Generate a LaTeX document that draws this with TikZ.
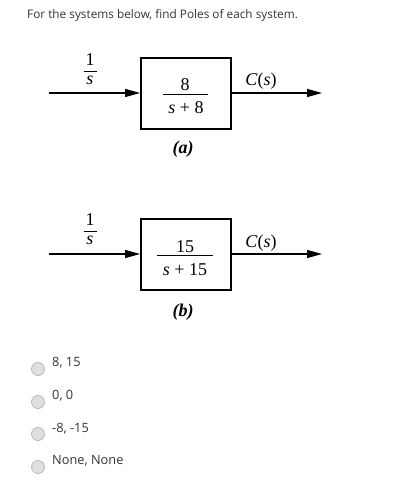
\documentclass[tikz,border=0pt]{standalone}
\usepackage{fontspec}
\setmainfont{Liberation Serif}
\newfontfamily\uifont{Open Sans}
\usetikzlibrary{arrows.meta}
\definecolor{uitext}{HTML}{333333}
\newcommand\onesfrac{\setlength\arrayrulewidth{0.9pt}\begin{tabular}{@{}c@{}}\makebox[13pt]{1}\\\hline\textit{s}\end{tabular}}
\begin{document}
\begin{tikzpicture}[x=1pt,y=-1pt,
  blk/.style={draw,line width=1.8pt,minimum width=90pt,minimum height=71pt,inner sep=0pt},
  arr/.style={line width=1.2pt,-{Triangle[length=15pt,width=8pt]}},
  dtext/.style={font=\fontsize{18}{18}\selectfont,inner sep=0pt,anchor=base},
  fracnode/.style={font=\fontsize{18}{18}\selectfont,inner sep=0pt,anchor=center},
  uitxt/.style={font=\uifont\fontsize{12.8}{14}\selectfont,text=uitext,inner sep=0pt,anchor=base west},
  radio/.style={circle,draw=gray!55,fill=gray!25,line width=0.8pt,minimum size=13pt,inner sep=0pt},
  bar/.style={line width=0.9pt}]
\useasboundingbox (0,0) rectangle (410,502);
\node[uitxt,font=\uifont\fontsize{11.8}{14}\selectfont] (title) at (27,19) {For the systems below, find Poles of each system.};
% ---- system (a)
\node[blk] (A) at (186,93.5) {};
\coordinate (ina) at (49,93);
\coordinate (outa) at (322,93);
\draw[arr] (ina) -- (A.west |- ina);
\draw[arr] (A.east |- outa) -- (outa);
\node[fracnode] (ain) at (90,71) {\onesfrac};
\node[dtext] (aC) at (261,86) {\textit{C}(\textit{s})};
\node[dtext] (anum) at (185,91) {8};
\draw[bar] (163,94) -- (208,94);
\node[dtext] (aden) at (186,114) {\textit{s} + 8};
\node[dtext] (alab) at (183,154) {\bfseries\itshape (a)};
% ---- system (b)
\node[blk] (B) at (186,254.5) {};
\coordinate (inb) at (49,254);
\coordinate (outb) at (322,254);
\draw[arr] (inb) -- (B.west |- inb);
\draw[arr] (B.east |- outb) -- (outb);
\node[fracnode] (bin) at (90,231) {\onesfrac};
\node[dtext] (bC) at (261,247) {\textit{C}(\textit{s})};
\node[dtext] (bnum) at (185,252) {15};
\draw[bar] (157,255) -- (213,255);
\node[dtext] (bden) at (185,275) {\textit{s} + 15};
\node[dtext] (blab) at (183,316) {\bfseries\itshape (b)};
% ---- options
\node[radio] (r1) at (38,369) {};
\node[radio] (r2) at (38,402) {};
\node[radio] (r3) at (38,434) {};
\node[radio] (r4) at (38,467) {};
\node[uitxt] (o1) at (52,366.5) {8, 15};
\node[uitxt] (o2) at (52,399) {0, 0};
\node[uitxt] (o3) at (52,432) {-8, -15};
\node[uitxt] (o4) at (52,464) {None, None};
\end{tikzpicture}
\end{document}
